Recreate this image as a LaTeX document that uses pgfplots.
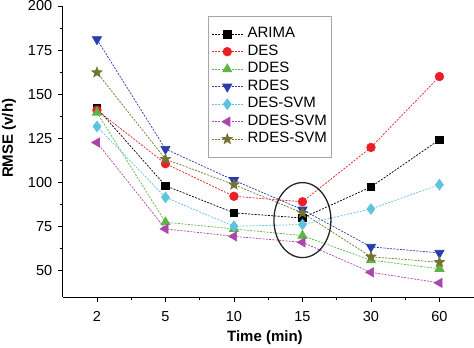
\documentclass[border=0pt]{standalone}
\usepackage{fontspec}
\setmainfont{Liberation Sans}
\usepackage{pgfplots}
\pgfplotsset{compat=1.18}
\definecolor{cARIMA}{RGB}{0,0,0}
\definecolor{cDES}{RGB}{235,30,40}
\definecolor{cDDES}{RGB}{95,180,70}
\definecolor{cRDES}{RGB}{40,60,170}
\definecolor{cDESSVM}{RGB}{95,195,222}
\definecolor{cDDESSVM}{RGB}{172,70,170}
\definecolor{cRDESSVM}{RGB}{115,115,50}
\pgfdeclareplotmark{fstar}{%
  \pgfpathmoveto{\pgfpointpolar{90}{\pgfplotmarksize}}%
  \pgfpathlineto{\pgfpointpolar{126}{0.42\pgfplotmarksize}}%
  \pgfpathlineto{\pgfpointpolar{162}{\pgfplotmarksize}}%
  \pgfpathlineto{\pgfpointpolar{198}{0.42\pgfplotmarksize}}%
  \pgfpathlineto{\pgfpointpolar{234}{\pgfplotmarksize}}%
  \pgfpathlineto{\pgfpointpolar{270}{0.42\pgfplotmarksize}}%
  \pgfpathlineto{\pgfpointpolar{306}{\pgfplotmarksize}}%
  \pgfpathlineto{\pgfpointpolar{342}{0.42\pgfplotmarksize}}%
  \pgfpathlineto{\pgfpointpolar{18}{\pgfplotmarksize}}%
  \pgfpathlineto{\pgfpointpolar{54}{0.42\pgfplotmarksize}}%
  \pgfpathclose
  \pgfusepathqfillstroke
}
\begin{document}
\begin{tikzpicture}
\begin{axis}[
  scale only axis,
  width=411pt, height=291pt,
  xmin=-0.5, xmax=5.5, ymin=35, ymax=200,
  axis x line*=bottom, axis y line*=left,
  axis line style={line width=0.9pt},
  xtick={0,1,2,3,4,5},
  xticklabels={2,5,10,15,30,60},
  minor x tick num=1,
  ytick={50,75,100,125,150,175,200},
  minor y tick num=1,
  tick align=outside,
  major tick length=5pt, minor tick length=3pt,
  tick style={line width=0.8pt, black},
  /pgf/number format/assume math mode=true,
  tick label style={font=\fontsize{14.5}{17}\selectfont},
  xticklabel style={yshift=-6pt},
  yticklabel style={xshift=-2pt},
  label style={font=\fontsize{15}{18}\selectfont\bfseries},
  xlabel={Time (min)},
  ylabel={RMSE (v/h)},
  xlabel style={at={(axis description cs:0.492,-0.141)}, anchor=center},
  ylabel style={at={(axis description cs:-0.1307,0.545)}, anchor=center},
  every axis plot/.append style={line width=0.7pt, dash pattern=on 2pt off 1.3pt},
  legend style={at={(axis description cs:0.3535,0.9656)}, anchor=north west,
    draw=gray!70, line width=0.9pt, inner xsep=3pt, inner ysep=9pt,
    font=\fontsize{15}{17}\selectfont, row sep=0pt,
    nodes={inner sep=1.5pt, text height=11pt, text depth=3.5pt},
    /tikz/every odd column/.append style={column sep=3pt}},
  legend cell align=left,
  legend image code/.code={
    \draw[mark repeat=2,mark phase=2] plot coordinates {(0pt,0pt) (15.5pt,0pt) (31pt,0pt)};
  },
]
\addplot[cARIMA, mark=square*, mark size=3.8pt, mark options={solid}] coordinates {(0,142.1) (1,98.1) (2,82.7) (3,79.8) (4,97.4) (5,124.2)};
\addlegendentry{ARIMA}
\addplot[cDES, mark=*, mark size=4.3pt, mark options={solid}] coordinates {(0,141) (1,110.6) (2,92.1) (3,89) (4,119.8) (5,160)};
\addlegendentry{DES}
\addplot[cDDES, mark=triangle*, mark size=5.3pt, mark options={solid}] coordinates {(0,139.6) (1,77.4) (2,73.6) (3,69.8) (4,55.9) (5,51)};
\addlegendentry{DDES}
\addplot[cRDES, mark=triangle*, mark size=5.3pt, mark options={solid, rotate=180}] coordinates {(0,181.1) (1,118.9) (2,101.2) (3,84.5) (4,63.4) (5,60)};
\addlegendentry{RDES}
\addplot[cDESSVM, mark=diamond*, mark size=5.3pt, mark options={solid}] coordinates {(0,131.7) (1,91.5) (2,75.1) (3,76.1) (4,84.9) (5,98.7)};
\addlegendentry{DES-SVM}
\addplot[cDDESSVM, mark=triangle*, mark size=5.3pt, mark options={solid, rotate=90}] coordinates {(0,122.6) (1,73.6) (2,69.4) (3,66) (4,49) (5,43)};
\addlegendentry{DDES-SVM}
\addplot[cRDESSVM, mark=fstar, mark size=5.3pt, mark options={solid, fill=cRDESSVM}] coordinates {(0,162.3) (1,113.2) (2,98.7) (3,82.7) (4,57.8) (5,54.7)};
\addlegendentry{RDES-SVM}
\draw[line width=1.3pt, black!85] (axis cs:3,78.6) ellipse [x radius=28.5pt, y radius=37.5pt];
\end{axis}
\pgfresetboundingbox
\path[use as bounding box] (-62.7pt,-51pt) rectangle (411.3pt,297pt);
\end{tikzpicture}
\end{document}
